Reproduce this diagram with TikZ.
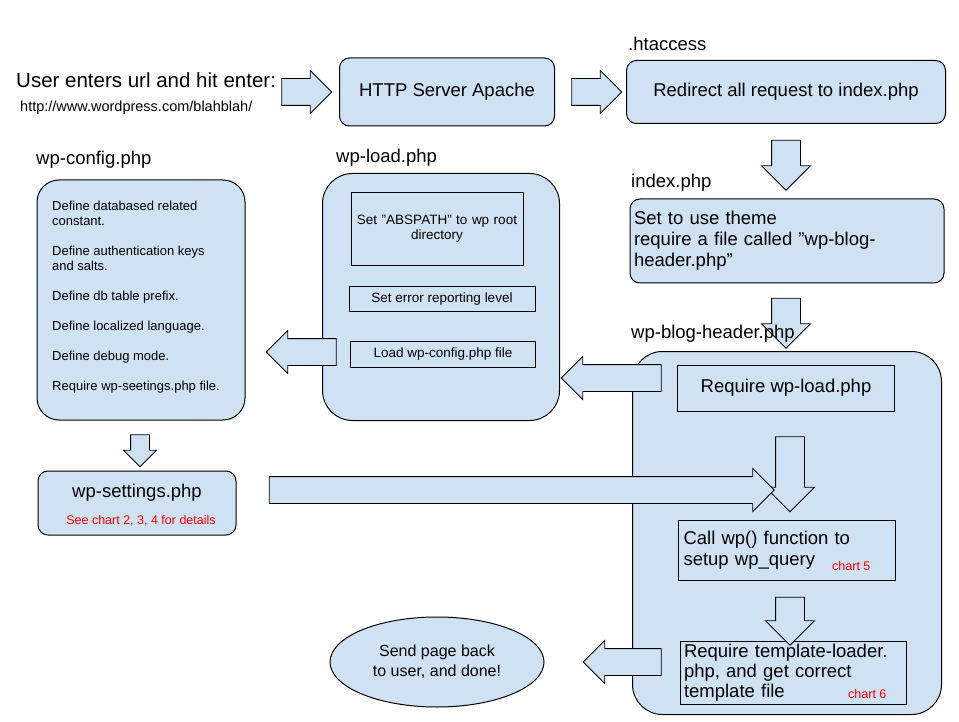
\documentclass[tikz,border=0pt]{standalone}
\usepackage{fontspec}
\setmainfont{Liberation Sans}
\usetikzlibrary{shapes.arrows,shapes.geometric}
\definecolor{boxblue}{HTML}{CFE2F3}
\tikzset{
  box/.style={draw=black, fill=boxblue, rounded corners=10pt, line width=1pt, inner sep=4pt},
  inbox/.style={draw=black, fill=boxblue, line width=1pt, inner sep=4pt},
  blk/.style={single arrow, draw=black, fill=boxblue, line width=0.8pt,
    inner xsep=0pt, inner ysep=13pt, single arrow head extend=8pt, anchor=center},
  dblk/.style={blk, rotate=-90, inner ysep=14pt, single arrow head extend=10pt},
  big/.style={font=\fontsize{18.5}{22}\selectfont},
  lbl/.style={big, anchor=west, inner sep=0pt},
  small/.style={font=\fontsize{13.5}{15}\selectfont},
  note/.style={font=\fontsize{12.5}{14}\selectfont, text=red, inner sep=0pt},
}
\begin{document}
\begin{tikzpicture}[x=1pt,y=-1pt]
\useasboundingbox[fill=white] (0,0) rectangle (959,722);
% top row
\node[lbl, font=\fontsize{20.5}{22}\selectfont] (user) at (16,80) {User enters url and hit enter:};
\node[anchor=west, inner sep=0pt, font=\fontsize{14.5}{16}\selectfont] (url) at (20,108) {http://www.wordpress.com/blahblah/};
\node[box, big, minimum width=215pt, minimum height=68pt] (apache) at (447,92) {HTTP Server Apache};
\node[box, big, minimum width=319pt, minimum height=63pt] (redirect) at (786,92) {Redirect all request to index.php};
\node[lbl] (htlbl) at (628,44) {.htaccess};
\node[blk, minimum height=50pt] (a1) at (300,92) {};
\node[blk, minimum height=50pt] (a2) at (590,92) {};
% index.php
\node[lbl] (idxlbl) at (631,183) {index.php};
\node[box, big, minimum width=314pt, minimum height=84pt, align=left, text width=306pt, font=\fontsize{18.5}{21}\selectfont] (index) at (787,241) {Set to use theme\\require a file called "wp-blog-\\header.php"};
\node[dblk, minimum height=50pt] (a3) at (786,158) {};
\node[dblk, minimum height=50pt] (a4) at (786,316) {};
% wp-blog-header.php
\node[box, rounded corners=30pt, minimum width=309pt, minimum height=363pt] (blog) at (787,533) {};
\node[lbl] (bloglbl) at (631,334) {wp-blog-header.php};
\node[inbox, big, minimum width=217pt, minimum height=46pt] (reqload) at (786,388) {Require wp-load.php};
\node[inbox, minimum width=217pt, minimum height=60pt, align=left, text width=207pt, font=\fontsize{18.5}{21}\selectfont] (callwp) at (787,550) {Call wp() function to\\setup wp\_query};
\node[note, anchor=west] (c5) at (832,566) {chart 5};
\node[inbox, minimum width=226pt, minimum height=63pt, align=left, text width=218pt, inner sep=2pt, font=\fontsize{18.5}{20}\selectfont] (reqtpl) at (793,673) {Require template-loader.\\php, and get correct\\template file};
\node[note, anchor=west] (c6) at (848,694) {chart 6};
\node[dblk, minimum height=75pt] (a5) at (790,467) {};
\node[dblk, minimum height=48pt] (a6) at (790,614) {};
% wp-load.php
\node[lbl] (loadlbl) at (336,158) {wp-load.php};
\node[box, rounded corners=30pt, minimum width=237pt, minimum height=247pt] (load) at (441,297) {};
\node[inbox, minimum width=170pt, minimum height=73pt, align=center, text width=164pt, small] (abspath) at (437,229) {Set "ABSPATH" to wp root\\directory\\[12pt]};
\node[inbox, minimum width=186pt, minimum height=25pt, small] (errlvl) at (442,299) {Set error reporting level};
\node[inbox, minimum width=185pt, minimum height=26pt, small] (loadcfg) at (443,354) {Load wp-config.php file};
\node[blk, minimum height=100pt, rotate=180] (a7) at (618,378) {};
\node[blk, minimum height=70pt, rotate=180] (a8) at (308,352) {};
% wp-config.php
\node[lbl] (cfglbl) at (36,160) {wp-config.php};
\node[box, rounded corners=22pt, minimum width=208pt, minimum height=240pt] (cfg) at (141,300) {};
\node[anchor=north west, align=left, inner sep=0pt, font=\fontsize{13}{15}\selectfont] (cfgtxt) at (52,201) {Define databased related\\constant.\\[15pt]Define authentication keys\\and salts.\\[15pt]Define db table prefix.\\[15pt]Define localized language.\\[15pt]Define debug mode.\\[15pt]Require wp-seetings.php file.};
\node[blk, minimum height=32pt, inner ysep=9pt, single arrow head extend=7pt, rotate=-90] (a9) at (140,446) {};
% wp-settings.php
\node[box, minimum width=198pt, minimum height=64pt] (settings) at (137,503) {};
\node[big, inner sep=0pt] (settxt) at (137,493) {wp-settings.php};
\node[note] (c234) at (141,521) {See chart 2, 3, 4 for details};
\node[blk, minimum height=505pt] (a10) at (515,490) {};
% end
\node[ellipse, draw=black, fill=boxblue, line width=1pt, minimum width=214pt, minimum height=90pt, align=center, font=\fontsize{16}{20}\selectfont] (done) at (437,662) {Send page back\\to user, and done!};
\node[blk, minimum height=78pt, rotate=180] (a11) at (629,662) {};
\end{tikzpicture}
\end{document}
